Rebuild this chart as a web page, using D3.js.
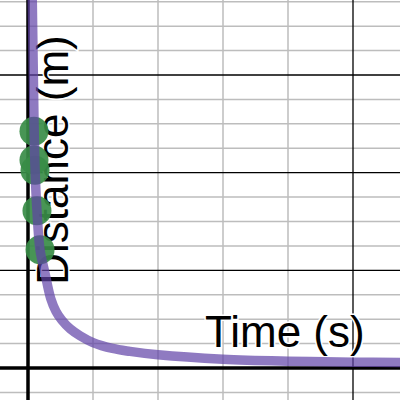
<!DOCTYPE html>
<html>
<head>
<meta charset="utf-8">
<script src="https://cdn.jsdelivr.net/npm/d3@7"></script>
<style>
  body { margin: 0; background: white; }
  svg { display: block; }
</style>
</head>
<body>
<svg id="plot"></svg>
<script>
// Curve (time in s, distance in m)
const curveTime = [0.058, 0.066, 0.092, 0.108, 0.138, 0.185, 0.26, 0.35, 0.43, 0.52, 0.65, 0.8, 1.0, 1.3, 1.57, 2, 3, 4, 5, 5.8];
const curveDist = [8.0, 7.5, 5.1, 4.1, 3.22, 2.42, 1.95, 1.42, 1.16, 0.98, 0.8, 0.66, 0.52, 0.4, 0.34, 0.27, 0.18, 0.14, 0.12, 0.11];

// Measured points
const pointTime = [0.092, 0.092, 0.108, 0.138, 0.185];
const pointDist = [4.85, 4.26, 4.05, 3.22, 2.42];

// Grid lines
const xMinorTicks = [1, 2, 3, 4];
const xMajorTicks = [5];
const yMinorTicks = [-0.5, 0.5, 1, 1.5, 2.5, 3, 3.5, 4.5, 5, 5.5, 6.5, 7, 7.5];
const yMajorTicks = [2, 4, 6];

const xLabel = 'Time (s)';
const yLabel = 'Distance (m)';

let width = 400, height = 400;

let svg = d3.select('#plot')
  .attr('width', width)
  .attr('height', height)
  .style('background', 'white');

// Scales: origin at (28, 368), 65px per second, ~48.8px per metre
let xScale = d3.scaleLinear()
  .domain([-28 / 65, 372 / 65])
  .range([0, width]);

let yScale = d3.scaleLinear()
  .domain([-32 / 48.83, 368 / 48.83])
  .range([height, 0]);

// Grid
let grid = svg.append('g');

grid.selectAll('.vminor')
  .data(xMinorTicks)
  .enter()
  .append('line')
  .attr('x1', d => xScale(d)).attr('x2', d => xScale(d))
  .attr('y1', 0).attr('y2', height)
  .attr('stroke', '#bdbdbd')
  .attr('stroke-width', 1.5);

grid.selectAll('.hminor')
  .data(yMinorTicks)
  .enter()
  .append('line')
  .attr('x1', 0).attr('x2', width)
  .attr('y1', d => yScale(d)).attr('y2', d => yScale(d))
  .attr('stroke', '#bdbdbd')
  .attr('stroke-width', 1.5);

grid.selectAll('.vmajor')
  .data(xMajorTicks)
  .enter()
  .append('line')
  .attr('x1', d => xScale(d)).attr('x2', d => xScale(d))
  .attr('y1', 0).attr('y2', height)
  .attr('stroke', '#000')
  .attr('stroke-width', 1.3);

grid.selectAll('.hmajor')
  .data(yMajorTicks)
  .enter()
  .append('line')
  .attr('x1', 0).attr('x2', width)
  .attr('y1', d => yScale(d)).attr('y2', d => yScale(d))
  .attr('stroke', '#000')
  .attr('stroke-width', 1.3);

// Axes
svg.append('line')
  .attr('x1', 0).attr('x2', width)
  .attr('y1', yScale(0)).attr('y2', yScale(0))
  .attr('stroke', '#000')
  .attr('stroke-width', 3.5);

svg.append('line')
  .attr('x1', xScale(0)).attr('x2', xScale(0))
  .attr('y1', 0).attr('y2', height)
  .attr('stroke', '#000')
  .attr('stroke-width', 3.5);

// Axis labels with white halo
svg.append('text')
  .attr('x', 205)
  .attr('y', 347)
  .style('font-family', '"Liberation Sans", Arial, sans-serif')
  .style('font-size', '44px')
  .attr('fill', '#000')
  .attr('stroke', '#fff')
  .attr('stroke-width', 3)
  .style('paint-order', 'stroke')
  .text(xLabel);

svg.append('text')
  .attr('transform', 'translate(68, 160) rotate(-90)')
  .attr('text-anchor', 'middle')
  .style('font-family', '"Liberation Sans", Arial, sans-serif')
  .style('font-size', '44px')
  .attr('fill', '#000')
  .attr('stroke', '#fff')
  .attr('stroke-width', 3)
  .style('paint-order', 'stroke')
  .text(yLabel);

// Points
let points = pointTime.map((t, i) => ({ t: t, d: pointDist[i] }));

svg.selectAll('.pt')
  .data(points)
  .enter()
  .append('circle')
  .attr('cx', d => xScale(d.t))
  .attr('cy', d => yScale(d.d))
  .attr('r', 14.5)
  .attr('fill', '#388c46')
  .attr('fill-opacity', 0.92);

// Curve
let curveData = curveTime.map((t, i) => ({ t: t, d: curveDist[i] }));

let line = d3.line()
  .x(d => xScale(d.t))
  .y(d => yScale(d.d))
  .curve(d3.curveCatmullRom.alpha(0.5));

svg.append('path')
  .datum(curveData)
  .attr('d', line)
  .attr('fill', 'none')
  .attr('stroke', '#6042a6')
  .attr('stroke-opacity', 0.7)
  .attr('stroke-width', 9.5)
  .attr('stroke-linecap', 'round');
</script>
</body>
</html>
